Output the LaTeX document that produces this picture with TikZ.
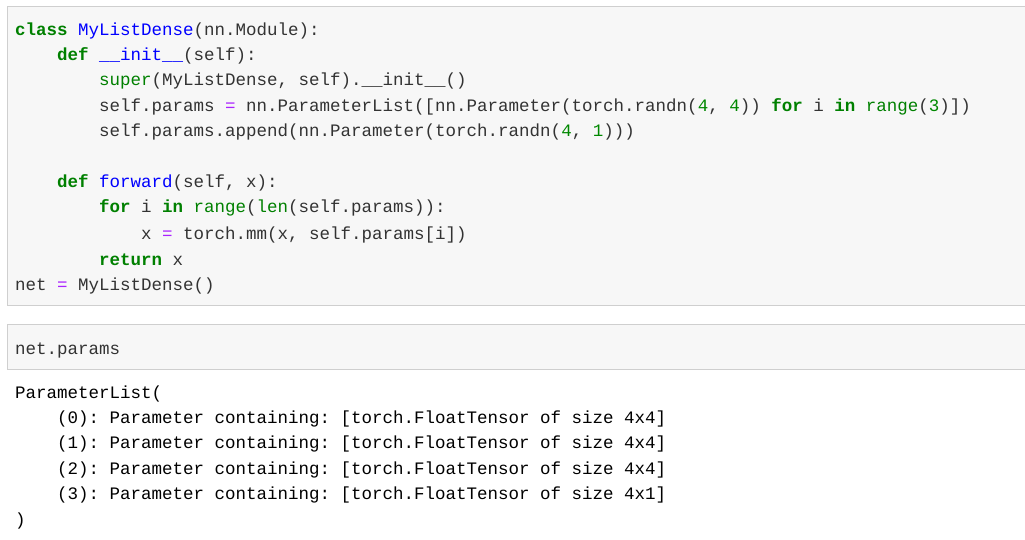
\documentclass[tikz,border=0pt]{standalone}
\usepackage{fontspec}
\setmonofont{Liberation Mono}
\definecolor{kwg}{HTML}{008000}
\definecolor{blt}{HTML}{0000FF}
\definecolor{opp}{HTML}{AA22FF}
\definecolor{numg}{HTML}{008800}
\definecolor{txt}{HTML}{333333}
\definecolor{cellbg}{HTML}{F7F7F7}
\definecolor{cellbd}{HTML}{CFCFCF}
\newcommand\kw[1]{\textcolor{kwg}{\textbf{#1}}}
\newcommand\bi[1]{\textcolor{kwg}{#1}}
\newcommand\nm[1]{\textcolor{blt}{#1}}
\newcommand\op[1]{\textcolor{opp}{#1}}
\newcommand\nmb[1]{\textcolor{numg}{#1}}
\newcommand\ind[1]{\fpeval{15+10.5*#1}}
\begin{document}
\begin{tikzpicture}[x=1pt,y=-1pt,
  code/.style={anchor=base west,inner sep=0pt,font=\ttfamily\fontsize{17.5}{20}\selectfont,text=txt},
  cell/.style={draw=cellbd,fill=cellbg,line width=1pt}]
\useasboundingbox (0,0) rectangle (1025,540);
\draw[cell] (1026,7) -- (7.5,7) -- (7.5,305) -- (1026,305);
\draw[cell] (1026,324) -- (7.5,324) -- (7.5,369) -- (1026,369);
\node[code] (l1) at (15,36) {\kw{class} \nm{MyListDense}(nn.Module):};
\node[code] (l2) at (\ind{4},61) {\kw{def} \nm{\_\_init\_\_}(self):};
\node[code] (l3) at (\ind{8},86) {\bi{super}(MyListDense, self).\_\_init\_\_()};
\node[code] (l4) at (\ind{8},112) {self.params \op{=} nn.ParameterList([nn.Parameter(torch.randn(\nmb{4}, \nmb{4})) \kw{for} i \kw{in} \bi{range}(\nmb{3})])};
\node[code] (l5) at (\ind{8},137) {self.params.append(nn.Parameter(torch.randn(\nmb{4}, \nmb{1})))};
\node[code] (l6) at (\ind{4},188) {\kw{def} \nm{forward}(self, x):};
\node[code] (l7) at (\ind{8},213) {\kw{for} i \kw{in} \bi{range}(\bi{len}(self.params)):};
\node[code] (l8) at (\ind{12},239) {x \op{=} torch.mm(x, self.params[i])};
\node[code] (l9) at (\ind{8},265) {\kw{return} x};
\node[code] (l10) at (15,290) {net \op{=} MyListDense()};
\node[code] (m1) at (15,354) {net.params};
\node[code,text=black] (o1) at (15,398) {ParameterList(};
\node[code,text=black] (o2) at (\ind{4},423) {(0): Parameter containing: [torch.FloatTensor of size 4x4]};
\node[code,text=black] (o3) at (\ind{4},448) {(1): Parameter containing: [torch.FloatTensor of size 4x4]};
\node[code,text=black] (o4) at (\ind{4},474) {(2): Parameter containing: [torch.FloatTensor of size 4x4]};
\node[code,text=black] (o5) at (\ind{4},499) {(3): Parameter containing: [torch.FloatTensor of size 4x1]};
\node[code,text=black] (o6) at (15,525) {)};
\end{tikzpicture}
\end{document}
